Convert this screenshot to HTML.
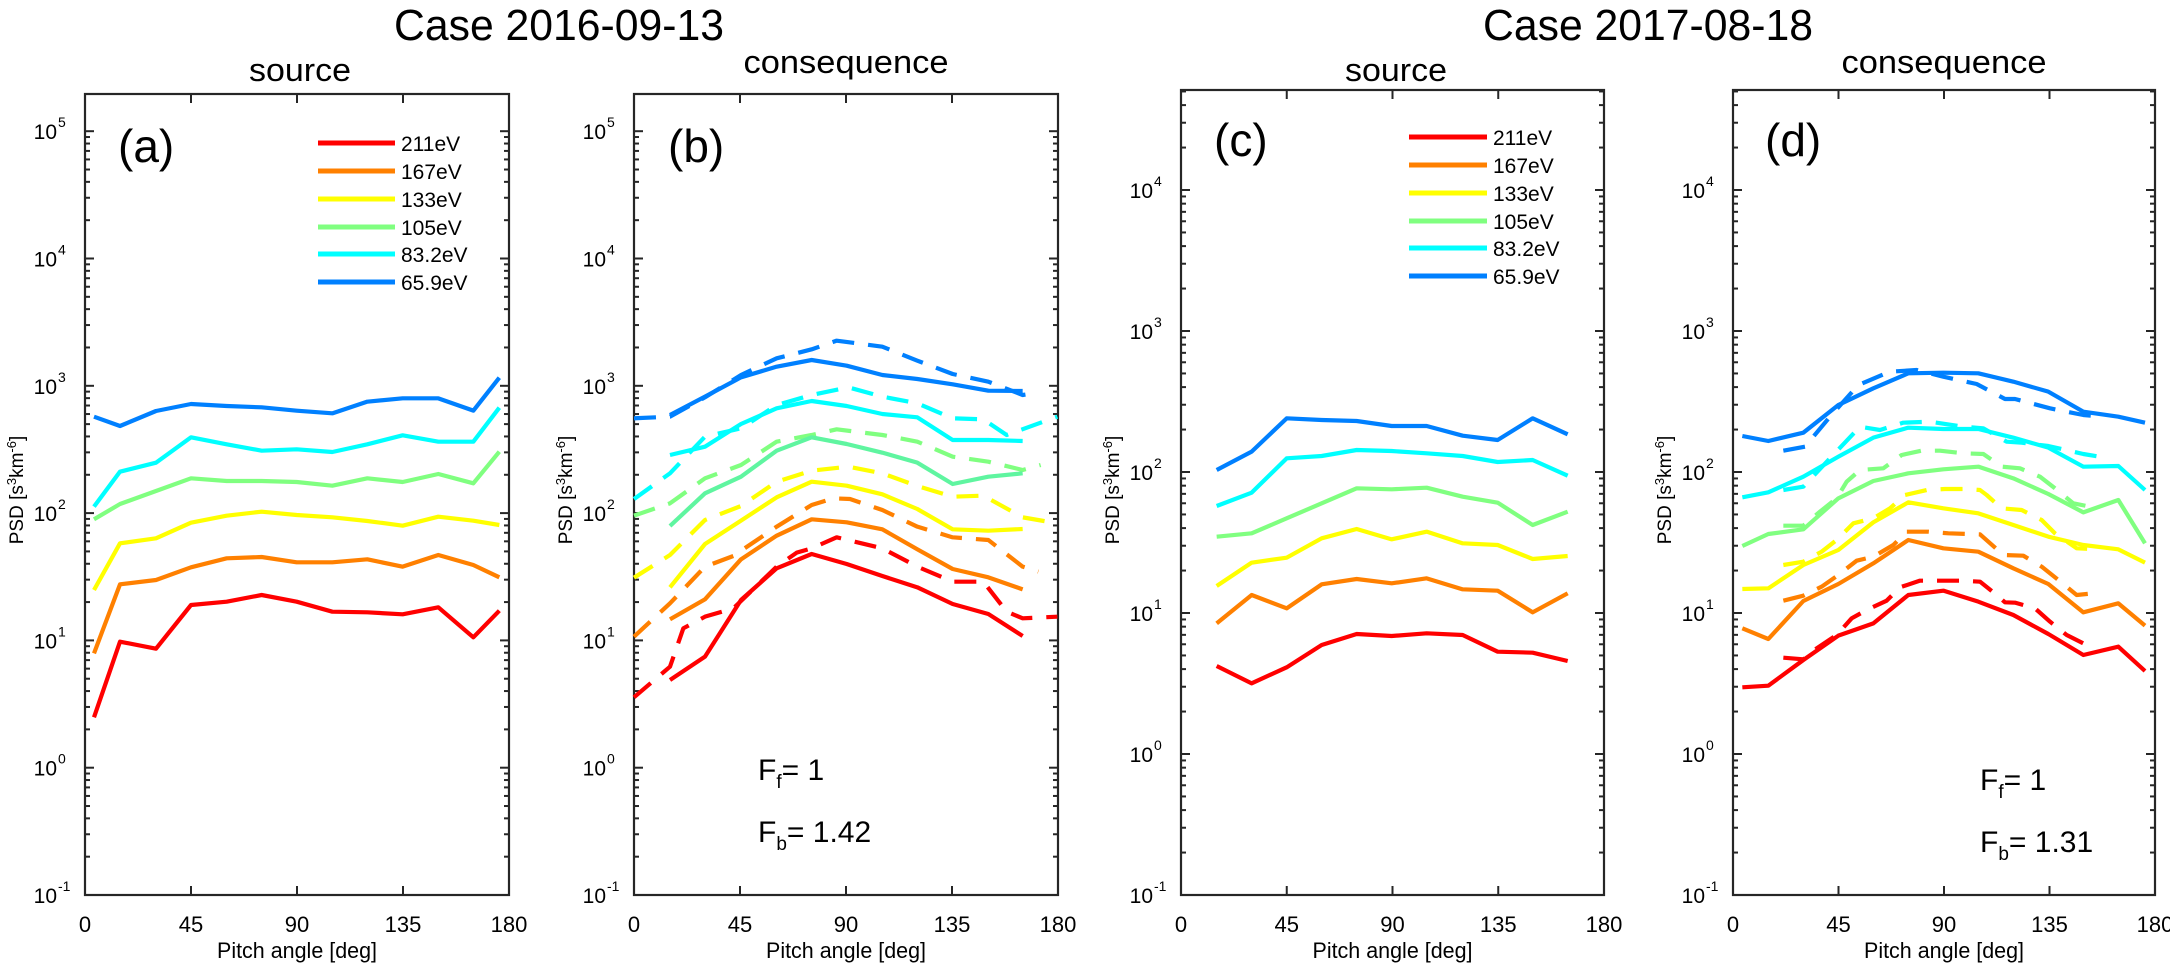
<!DOCTYPE html>
<html><head><meta charset="utf-8"><style>
html,body{margin:0;padding:0;background:#fff;}
svg{display:block;font-family:"Liberation Sans",Arial,sans-serif;}
</style></head><body>
<svg id="s" width="2170" height="965" viewBox="0 0 2170 965" xmlns="http://www.w3.org/2000/svg">
<text x="559" y="40" font-size="44" text-anchor="middle" textLength="330" lengthAdjust="spacingAndGlyphs">Case 2016-09-13</text>
<text x="1648" y="40" font-size="44" text-anchor="middle" textLength="330" lengthAdjust="spacingAndGlyphs">Case 2017-08-18</text>
<text x="300" y="81" font-size="32" text-anchor="middle" textLength="102" lengthAdjust="spacingAndGlyphs">source</text>
<text x="846" y="73" font-size="32" text-anchor="middle" textLength="205" lengthAdjust="spacingAndGlyphs">consequence</text>
<text x="1396" y="81" font-size="32" text-anchor="middle" textLength="102" lengthAdjust="spacingAndGlyphs">source</text>
<text x="1944" y="73" font-size="32" text-anchor="middle" textLength="205" lengthAdjust="spacingAndGlyphs">consequence</text>
<g id="g"></g>
</svg>
<script>
var NS="http://www.w3.org/2000/svg",g=document.getElementById('g');
function el(t,a,txt){var e=document.createElementNS(NS,t);for(var k in a)e.setAttribute(k,a[k]);if(txt!==undefined)e.textContent=txt;g.appendChild(e);return e;}
var C={r:'#ff0000',o:'#ff8000',y:'#ffff00',g:'#80ff80',t:'#5ff5a0',c:'#00ffff',b:'#0080ff'};
var panels=[
 {l:85,r:509,top:94,bot:895,dec:127.3,lo:-1,hi:5},
 {l:634,r:1058,top:94,bot:895,dec:127.3,lo:-1,hi:5},
 {l:1181,r:1604,top:90,bot:895,dec:141,lo:-1,hi:4},
 {l:1733,r:2155,top:90,bot:895,dec:141,lo:-1,hi:4}];
panels.forEach(function(p){
 // axes box
 el('rect',{x:p.l,y:p.top,width:p.r-p.l,height:p.bot-p.top,fill:'none',stroke:'#262626','stroke-width':2.2});
 for(var i=0;i<=4;i++){var x=p.l+(p.r-p.l)*i/4;
  if(i>0&&i<4){el('line',{x1:x,y1:p.bot,x2:x,y2:p.bot-9,stroke:'#262626','stroke-width':2});
   el('line',{x1:x,y1:p.top,x2:x,y2:p.top+9,stroke:'#262626','stroke-width':2});}
  el('text',{x:x,y:932,'font-size':22,'text-anchor':'middle'},String(i*45));}
 el('text',{x:(p.l+p.r)/2,y:958,'font-size':22,'text-anchor':'middle',textLength:160,lengthAdjust:'spacingAndGlyphs'},'Pitch angle [deg]');
 for(var d=p.lo;d<=p.hi+1;d++){
  for(var m=1;m<10;m++){var y=p.bot-(d-p.lo+Math.log10(m))*p.dec;if(y<p.top+1)continue;
   var len=m==1?9:5;
   el('line',{x1:p.l,y1:y,x2:p.l+len,y2:y,stroke:'#262626','stroke-width':2});
   el('line',{x1:p.r,y1:y,x2:p.r-len,y2:y,stroke:'#262626','stroke-width':2});
   if(m==1&&d<=p.hi){var t=el('text',{x:p.l-28,y:y+8,'font-size':21,'text-anchor':'end'},'10');
    el('text',{x:p.l-27,y:y-4,'font-size':14},String(d));}
  }}
 var yt=el('text',{transform:'translate('+(p.l-62)+',490) rotate(-90)','font-size':19,'text-anchor':'middle'});
 yt.innerHTML='PSD [s<tspan dy="-7" font-size="13">3</tspan><tspan dy="7">km</tspan><tspan dy="-7" font-size="13">-6</tspan><tspan dy="7">]</tspan>';
});
// panel labels
[['(a)',118,['a']],['(b)',668],['(c)',1214],['(d)',1765]].forEach(function(a,i){
 el('text',{x:a[1],y:i<2?162:156,'font-size':46},a[0]);});
// legends
function legend(x1,x2,ys){var cols=['r','o','y','g','c','b'],labs=['211eV','167eV','133eV','105eV','83.2eV','65.9eV'];
 ys.forEach(function(y,i){el('line',{x1:x1,y1:y,x2:x2,y2:y,stroke:C[cols[i]],'stroke-width':5});
  el('text',{x:x2+6,y:y+8,'font-size':21},labs[i]);});}
legend(318,395,[143,171,199,227,254,282]);
legend(1409,1487,[137,165,193,221,248,276]);
// F annotations
function fann(x,y1,y2,v1,v2){
 var t=el('text',{x:x,y:y1,'font-size':30});t.innerHTML='F<tspan dy="8" font-size="19">f</tspan><tspan dy="-8">= '+v1+'</tspan>';
 var u=el('text',{x:x,y:y2,'font-size':30});u.innerHTML='F<tspan dy="8" font-size="19">b</tspan><tspan dy="-8">= '+v2+'</tspan>';}
fann(758,780,842,'1','1.42');
fann(1980,790,852,' 1',' 1.31');
function line(ox,oy,pts,col,dash,xs){
 var s=[];for(var i=0;i<pts.length;i++){ if(xs) s.push((ox+xs[i]/3)+','+(oy+pts[i]/3)); else s.push((ox+pts[i][0]/3)+','+(oy+pts[i][1]/3));}
 var a={points:s.join(' '),fill:'none',stroke:C[col],'stroke-width':4.2,'stroke-linejoin':'round'};
 if(dash)a['stroke-dasharray']='22 14';
 el('polyline',a);}
// panel a
var xa=[42,120,228,333,440,545,650,757,862,968,1075,1180,1258];
line(80,330,[260,288,243,222,228,232,242,250,215,205,205,242,143],'b',0,xa);
line(80,330,[530,425,398,322,343,362,358,366,343,316,335,335,233],'c',0,xa);
line(80,330,[568,522,483,445,453,453,456,467,445,456,432,460,365],'g',0,xa);
line(80,330,[780,640,625,578,557,545,555,562,573,587,560,572,585],'y',0,xa);
line(80,330,[970,763,750,712,685,681,697,697,688,710,675,705,742],'o',0,xa);
line(80,330,[1162,935,956,825,815,795,815,845,847,853,832,922,842],'r',0,xa);
// panel b
var xb=[120,225,333,440,545,650,757,862,968,1075,1178];
line(630,300,[[12,355],[120,350],[225,292],[333,225],[440,175],[545,148],[620,122],[757,140],[862,182],[968,222],[1075,245],[1178,285],[1222,278]],'b',1);
line(630,300,[[12,597],[120,520],[225,410],[333,385],[440,315],[545,285],[655,262],[757,290],[862,310],[968,355],[1060,358],[1130,405],[1282,350]],'c',1);
line(630,300,[[12,647],[120,610],[225,535],[333,495],[440,425],[545,405],[620,388],[757,405],[862,425],[968,470],[1075,485],[1178,510],[1232,495]],'g',1);
line(630,300,[[12,833],[120,765],[225,660],[333,618],[440,545],[545,512],[655,500],[757,520],[862,558],[968,590],[1060,587],[1178,652],[1282,670]],'y',1);
line(630,300,[[12,1010],[120,910],[225,800],[310,768],[440,680],[545,615],[610,595],[660,597],[757,630],[862,680],[968,712],[1075,720],[1178,800],[1225,815]],'o',1);
line(630,300,[[12,1192],[120,1100],[160,985],[225,950],[310,925],[440,800],[500,758],[545,745],[620,712],[757,745],[862,800],[968,845],[1060,845],[1130,935],[1178,955],[1282,950]],'r',1);
line(630,300,[345,290,232,200,180,197,225,237,253,272,273],'b',0,xb);
line(630,300,[465,440,372,325,303,318,342,352,420,420,423],'c',0,xb);
line(630,300,[678,580,530,452,412,432,458,488,552,530,520],'t',0,xb);
line(630,300,[862,732,662,592,545,557,583,627,688,692,687],'y',0,xb);
line(630,300,[958,898,778,707,658,667,688,748,807,832,868],'o',0,xb);
line(630,300,[1140,1070,900,805,762,792,828,862,912,942,1008],'r',0,xb);
// panel c
var xc=[110,215,320,425,530,635,740,848,953,1058,1163];
line(1180,380,[270,215,115,120,123,138,138,167,180,115,163],'b',0,xc);
line(1180,380,[378,338,235,228,210,213,220,228,246,240,287],'c',0,xc);
line(1180,380,[470,460,415,370,325,328,323,350,368,435,395],'g',0,xc);
line(1180,380,[618,548,533,475,447,478,455,490,495,537,528],'y',0,xc);
line(1180,380,[730,645,685,613,597,610,595,628,632,697,640],'o',0,xc);
line(1180,380,[858,910,862,795,762,768,760,765,815,818,843],'r',0,xc);
// panel d
var xd=[37,115,220,325,430,535,640,745,850,955,1060,1165,1245];
line(1730,380,[[160,212],[225,200],[300,110],[385,15],[480,-25],[560,-30],[640,-10],[740,12],[825,57],[855,57],[960,85],[1060,105],[1095,108]],'b',1);
line(1730,380,[[160,330],[220,320],[300,235],[390,140],[450,150],[520,128],[600,125],[700,140],[760,145],[830,185],[875,188],[955,198],[1060,222],[1120,232]],'c',1);
line(1730,380,[[160,437],[220,437],[270,395],[320,355],[350,305],[390,270],[460,265],[515,225],[575,212],[630,212],[700,220],[760,222],[815,260],[870,265],[930,290],[975,325],[1030,370],[1080,380]],'g',1);
line(1730,380,[[160,555],[220,545],[275,515],[320,480],[370,430],[430,415],[480,385],[525,345],[590,330],[645,327],[710,327],[750,330],[770,345],[815,385],[875,390],[935,420],[975,460],[1040,505],[1085,507]],'y',1);
line(1730,380,[[160,662],[220,647],[275,620],[325,585],[380,542],[430,530],[490,495],[530,455],[595,455],[655,460],[750,463],[775,485],[820,525],[880,527],[935,560],[985,600],[1040,645],[1090,640]],'o',1);
line(1730,380,[[160,833],[220,838],[260,805],[320,765],[365,715],[410,690],[470,662],[510,622],[570,602],[690,602],[750,605],[800,645],[825,667],[855,668],[915,685],[960,725],[1010,765],[1060,790]],'r',1);
line(1730,380,[168,183,158,75,25,-20,-22,-20,5,35,95,110,128],'b',0,xd);
line(1730,380,[352,337,290,230,173,143,147,147,173,203,260,258,330],'c',0,xd);
line(1730,380,[498,462,448,355,303,280,268,260,295,342,397,360,490],'g',0,xd);
line(1730,380,[627,625,555,510,427,367,385,400,435,470,495,508,548],'y',0,xd);
line(1730,380,[745,777,663,612,550,480,505,515,565,612,697,670,737],'o',0,xd);
line(1730,380,[922,917,840,767,730,645,632,665,705,762,825,800,873],'r',0,xd);
</script>
</body></html>
